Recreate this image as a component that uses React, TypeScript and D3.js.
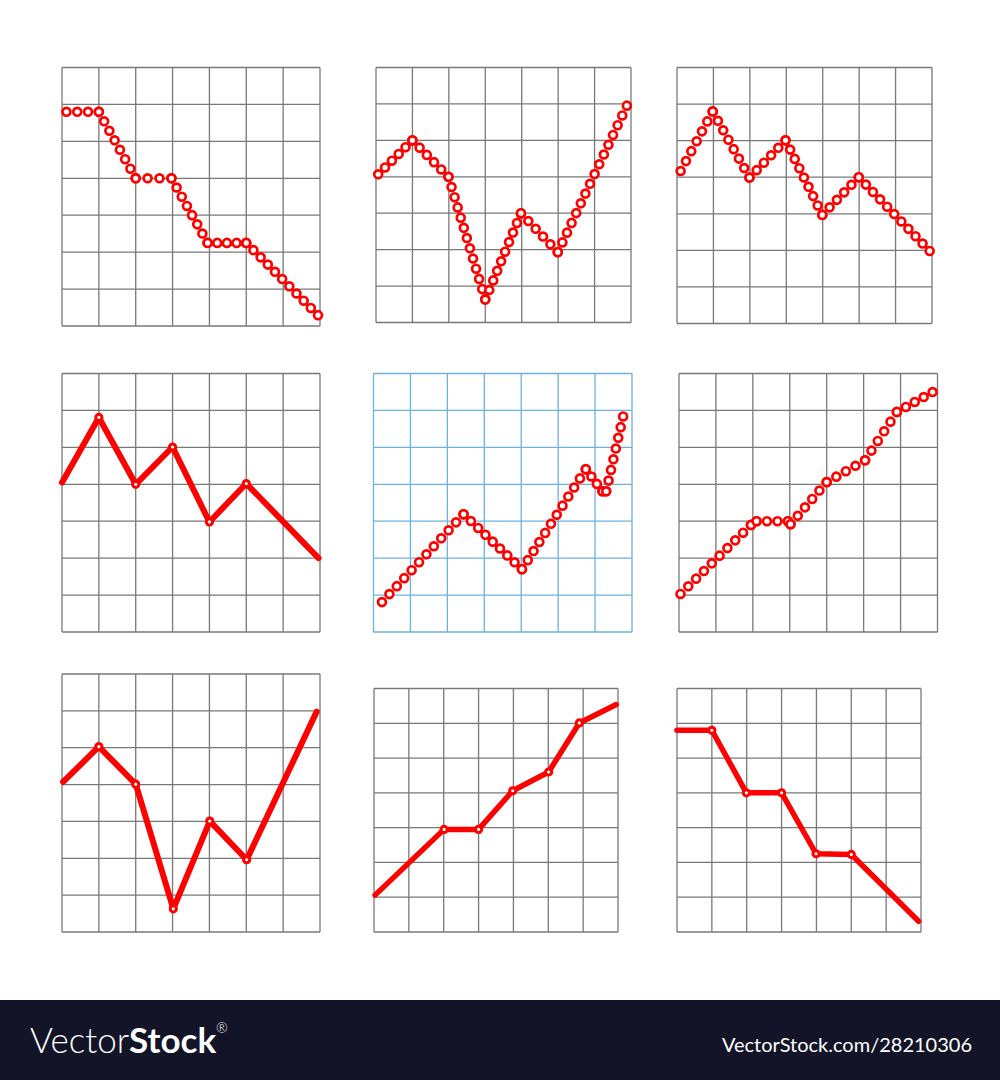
import React from "react";
import * as d3 from "d3";

// Grid divisions (7 x 7 cells)
const gridTicks = [0, 1, 2, 3, 4, 5, 6, 7];

// Series values in grid units (x: 0..7 left→right, y: 0..7 bottom→top)
const p1X = [0.12, 1.0, 2.0, 2.97, 3.95, 5.0, 6.95];
const p1Y = [5.8, 5.8, 4.0, 4.0, 2.25, 2.25, 0.29];

const p2X = [0.06, 1.0, 1.99, 3.0, 3.98, 4.99, 6.89];
const p2Y = [4.07, 5.0, 4.0, 0.63, 3.0, 1.93, 5.96];

const p3X = [0.1, 0.98, 1.99, 2.98, 3.99, 4.99, 6.94];
const p3Y = [4.17, 5.8, 3.99, 5.01, 2.97, 4.0, 1.98];

const p4X = [0.0, 1.0, 2.0, 3.0, 4.0, 5.0, 6.96];
const p4Y = [4.05, 5.81, 4.0, 5.01, 2.98, 4.02, 2.0];

const p5X = [0.23, 2.44, 4.02, 5.75, 6.2, 6.3, 6.76];
const p5Y = [0.81, 3.19, 1.7, 4.41, 3.81, 3.81, 5.84];

const p6X = [0.04, 1.95, 2.1, 2.95, 3.02, 4.0, 5.04, 5.9, 6.87];
const p6Y = [1.03, 2.9, 3.0, 3.0, 2.92, 4.06, 4.65, 5.96, 6.5];

const p7X = [0.03, 1.0, 2.0, 3.02, 4.01, 5.01, 6.91];
const p7Y = [4.07, 5.03, 4.01, 0.63, 3.01, 1.96, 5.98];

const p8X = [0.03, 2.01, 3.0, 3.98, 5.01, 5.89, 6.95];
const p8Y = [1.06, 2.95, 2.95, 4.06, 4.6, 6.01, 6.54];

const p9X = [0.0, 1.0, 1.99, 3.0, 3.99, 5.0, 6.93];
const p9Y = [5.8, 5.8, 4.0, 4.0, 2.25, 2.23, 0.31];

const logoLight = "Vector";
const logoBold = "Stock";
const logoMark = "®";
const imageId = "VectorStock.com/28210306";

const RED = "#fe0000";
const GRAY = "#787878";
const BLUE = "#6db1dd";

type Kind = "dots" | "thick";
type Panel = {
  x0: number; x1: number; y0: number; y1: number;
  xs: number[]; ys: number[];
  kind: Kind; grid: string; lw?: number;
};

const panels: Panel[] = [
  { x0: 62, x1: 320, y0: 67.5, y1: 326, xs: p1X, ys: p1Y, kind: "dots", grid: GRAY },
  { x0: 376, x1: 631, y0: 67.5, y1: 322.5, xs: p2X, ys: p2Y, kind: "dots", grid: GRAY },
  { x0: 677, x1: 932, y0: 67.5, y1: 323.5, xs: p3X, ys: p3Y, kind: "dots", grid: GRAY },
  { x0: 62, x1: 320, y0: 373.5, y1: 632, xs: p4X, ys: p4Y, kind: "thick", grid: GRAY, lw: 6 },
  { x0: 373.5, x1: 632, y0: 373.5, y1: 632, xs: p5X, ys: p5Y, kind: "dots", grid: BLUE },
  { x0: 679, x1: 937.5, y0: 373.5, y1: 632, xs: p6X, ys: p6Y, kind: "dots", grid: GRAY },
  { x0: 62, x1: 320, y0: 674, y1: 932, xs: p7X, ys: p7Y, kind: "thick", grid: GRAY, lw: 6 },
  { x0: 374, x1: 618, y0: 688.5, y1: 932, xs: p8X, ys: p8Y, kind: "thick", grid: GRAY, lw: 5.5 },
  { x0: 677, x1: 921, y0: 688.5, y1: 932, xs: p9X, ys: p9Y, kind: "thick", grid: GRAY, lw: 5.5 },
];

const SPACING = 10.6;

function PanelView({ p }: { p: Panel }) {
  const x = d3.scaleLinear().domain([0, 7]).range([p.x0, p.x1]);
  const y = d3.scaleLinear().domain([0, 7]).range([p.y1, p.y0]);
  const pts: [number, number][] = p.xs.map((v, i) => [x(v), y(p.ys[i])]);
  const lineGen = d3.line();

  return (
    <g>
      <rect x={p.x0} y={p.y0} width={p.x1 - p.x0} height={p.y1 - p.y0} fill="#fff" />
      {gridTicks.map((t) => (
        <line key={"v" + t} x1={x(t)} x2={x(t)} y1={p.y0} y2={p.y1} stroke={p.grid} strokeWidth={1.3} />
      ))}
      {gridTicks.map((t) => (
        <line key={"h" + t} x1={p.x0} x2={p.x1} y1={y(t)} y2={y(t)} stroke={p.grid} strokeWidth={1.3} />
      ))}
      {p.kind === "thick" && (
        <g>
          <path d={lineGen(pts) || ""} fill="none" stroke={RED} strokeWidth={p.lw}
            strokeLinejoin="round" strokeLinecap="round" />
          {pts.slice(1, -1).map((pt, i) => (
            <circle key={i} cx={pt[0]} cy={pt[1]} r={3.1} fill="#fff" stroke={RED} strokeWidth={3} />
          ))}
        </g>
      )}
      {p.kind === "dots" &&
        pts.slice(1).map((b, i) => {
          const a = pts[i];
          const L = Math.hypot(b[0] - a[0], b[1] - a[1]);
          const n = Math.max(1, Math.round(L / SPACING));
          const s = L / n - 0.02;
          const d = lineGen([a, b]) || "";
          return (
            <g key={i}>
              <path d={d} fill="none" stroke={RED} strokeWidth={10.6} strokeLinecap="round"
                strokeDasharray={`0 ${s}`} />
              <path d={d} fill="none" stroke="#fff" strokeWidth={5.2} strokeLinecap="round"
                strokeDasharray={`0 ${s}`} />
            </g>
          );
        })}
    </g>
  );
}

export default function App() {
  return (
    <svg
      width={1000}
      height={1080}
      viewBox="0 0 1000 1080"
      style={{ position: "absolute", left: 0, top: 0, display: "block" }}
    >
      <rect x={0} y={0} width={1000} height={1080} fill="#fff" />
      {panels.map((p, i) => (
        <PanelView key={i} p={p} />
      ))}
      <rect x={0} y={1000} width={1000} height={80} fill="#131427" />
      <text x={30} y={1053} fill="#fff" fontFamily="Lato, 'Open Sans', sans-serif" fontSize={35}>
        <tspan fontWeight={300}>{logoLight}</tspan>
        <tspan fontWeight={700}>{logoBold}</tspan>
        <tspan fontWeight={300} fontSize={14} dy={-20}>{logoMark}</tspan>
      </text>
      <text x={972} y={1052} fill="#fff" textAnchor="end" fontFamily="Lato, 'Open Sans', sans-serif"
        fontSize={20} fontWeight={400}>
        {imageId}
      </text>
    </svg>
  );
}
